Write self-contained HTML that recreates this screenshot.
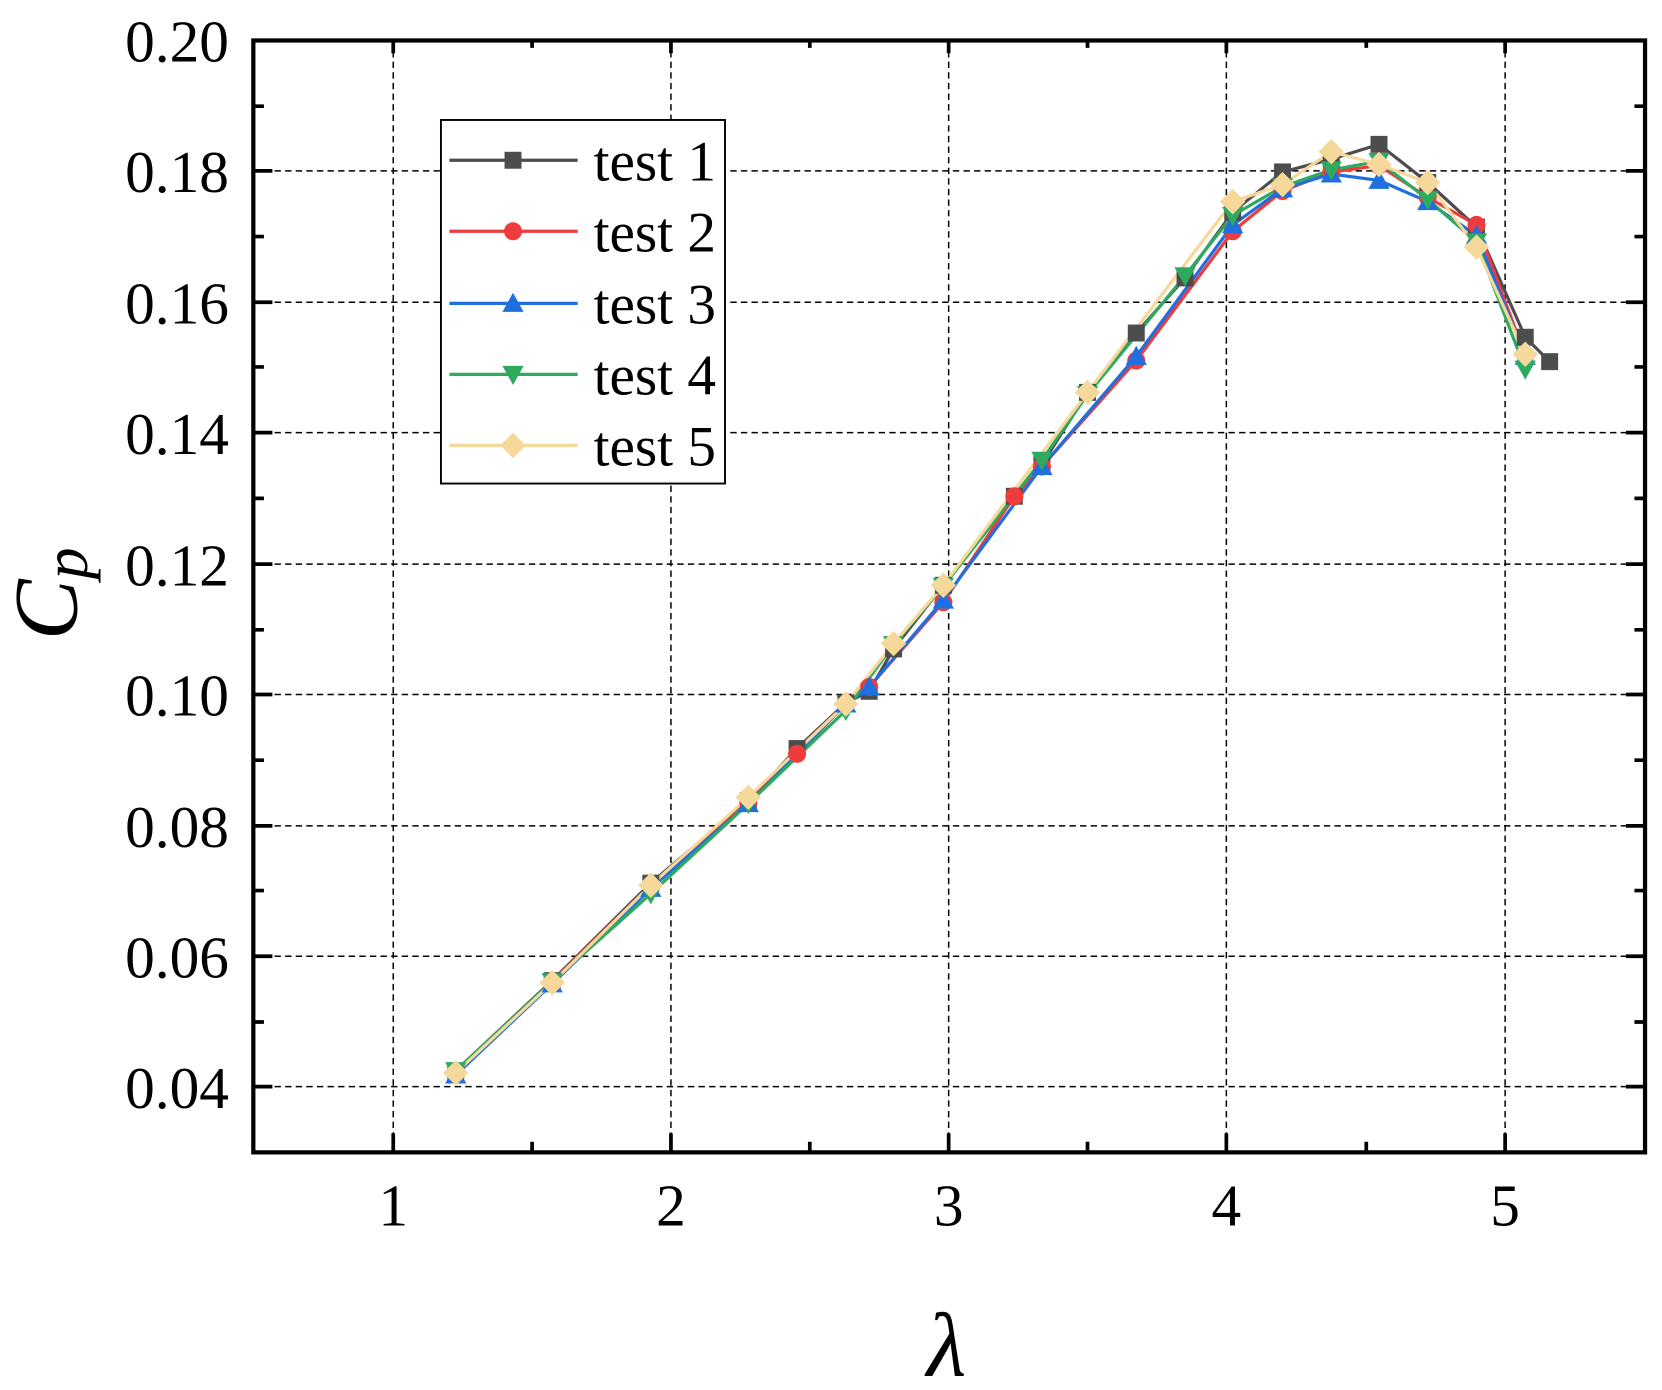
<!DOCTYPE html>
<html><head><meta charset="utf-8"><style>html,body{margin:0;padding:0;background:#fff}svg{display:block}</style></head>
<body>
<svg width="1662" height="1390" viewBox="0 0 1568 1311" xmlns="http://www.w3.org/2000/svg" font-family="Liberation Serif, serif">
<rect width="1568" height="1311" fill="#fff"/>
<g stroke="#000" stroke-width="1.4" stroke-dasharray="6,4" fill="none">
<path d="M371,38V1087M633,38V1087M895,38V1087M1157,38V1087M1420,38V1087"/>
<path d="M239,161H1552M239,285H1552M239,408H1552M239,532H1552M239,655H1552M239,779H1552M239,902H1552M239,1025H1552"/>
</g>
<g stroke="#000" stroke-width="3.5">
<path d="M371,1087v-18M633,1087v-18M895,1087v-18M1157,1087v-18M1420,1087v-18M502,1087v-10M764,1087v-10M1026,1087v-10M1289,1087v-10"/>
<path d="M371,38v12M633,38v12M895,38v12M1157,38v12M1420,38v12M502,38v7M764,38v7M1026,38v7M1289,38v7"/>
<path d="M239,161h18M239,285h18M239,408h18M239,532h18M239,655h18M239,779h18M239,902h18M239,1025h18M239,100h10M239,223h10M239,346h10M239,470h10M239,594h10M239,717h10M239,840h10M239,964h10"/>
<path d="M1552,161h-18M1552,285h-18M1552,408h-18M1552,532h-18M1552,655h-18M1552,779h-18M1552,902h-18M1552,1025h-18M1552,100h-10M1552,223h-10M1552,346h-10M1552,470h-10M1552,594h-10M1552,717h-10M1552,840h-10M1552,964h-10"/>
</g>
<rect x="239" y="38" width="1313" height="1049" fill="none" stroke="#000" stroke-width="4"/>
<defs>
<rect id="sq" x="-8" y="-8" width="16" height="16" fill="#4d4d4d"/>
<circle id="ci" r="8.5" fill="#ee3b3b"/>
<path id="tu" d="M0,-10L10,8H-10Z" fill="#1f6fe0"/>
<path id="td" d="M0,10L10,-8H-10Z" fill="#2eaa5f"/>
<path id="di" d="M0,-12L12,0L0,12L-12,0Z" fill="#f5d89a"/>
</defs>
<g fill="none" stroke-width="3">
<polyline stroke="#4d4d4d" points="430,1010 521,925 614,833 706,755 752,706 798,663 820,652 843,612 890,552 957,468 983,438 1026,370 1072,314 1118,262 1163,200 1210,162 1256,150 1301,136 1347,172 1393,214 1439,318 1462,341"/>
<polyline stroke="#ee3b3b" points="430,1012 521,926 614,835 706,757 752,711 798,664 820,648 890,568 957,468 983,440 1072,340 1163,218 1210,180 1256,162 1301,156 1347,186 1393,212 1439,335"/>
<polyline stroke="#1f6fe0" points="430,1014 521,928 614,838 706,758 798,664 820,648 890,566 983,440 1072,336 1163,212 1210,178 1256,164 1301,170 1347,190 1393,222 1439,336"/>
<polyline stroke="#2eaa5f" points="430,1010 521,926 614,843 706,758 798,670 843,608 890,553 983,434 1026,372 1118,260 1163,203 1210,176 1256,160 1301,152 1347,188 1393,228 1439,348"/>
<polyline stroke="#f5d89a" points="430,1012 521,927 614,835 706,752 798,664 843,607 890,552 1026,370 1163,190 1210,174 1256,143 1301,155 1347,172 1393,233 1439,334"/>
</g>
<g>
<use href="#sq" x="430" y="1010"/><use href="#sq" x="521" y="925"/><use href="#sq" x="614" y="833"/><use href="#sq" x="706" y="755"/><use href="#sq" x="752" y="706"/><use href="#sq" x="798" y="663"/><use href="#sq" x="820" y="652"/><use href="#sq" x="843" y="612"/><use href="#sq" x="890" y="552"/><use href="#sq" x="957" y="468"/><use href="#sq" x="983" y="438"/><use href="#sq" x="1026" y="370"/><use href="#sq" x="1072" y="314"/><use href="#sq" x="1118" y="262"/><use href="#sq" x="1163" y="200"/><use href="#sq" x="1210" y="162"/><use href="#sq" x="1256" y="150"/><use href="#sq" x="1301" y="136"/><use href="#sq" x="1347" y="172"/><use href="#sq" x="1393" y="214"/><use href="#sq" x="1439" y="318"/><use href="#sq" x="1462" y="341"/>
<use href="#ci" x="430" y="1012"/><use href="#ci" x="521" y="926"/><use href="#ci" x="614" y="835"/><use href="#ci" x="706" y="757"/><use href="#ci" x="752" y="711"/><use href="#ci" x="798" y="664"/><use href="#ci" x="820" y="648"/><use href="#ci" x="890" y="568"/><use href="#ci" x="957" y="468"/><use href="#ci" x="983" y="440"/><use href="#ci" x="1072" y="340"/><use href="#ci" x="1163" y="218"/><use href="#ci" x="1210" y="180"/><use href="#ci" x="1256" y="162"/><use href="#ci" x="1301" y="156"/><use href="#ci" x="1347" y="186"/><use href="#ci" x="1393" y="212"/><use href="#ci" x="1439" y="335"/>
<use href="#tu" x="430" y="1014"/><use href="#tu" x="521" y="928"/><use href="#tu" x="614" y="838"/><use href="#tu" x="706" y="758"/><use href="#tu" x="798" y="664"/><use href="#tu" x="820" y="648"/><use href="#tu" x="890" y="566"/><use href="#tu" x="983" y="440"/><use href="#tu" x="1072" y="336"/><use href="#tu" x="1163" y="212"/><use href="#tu" x="1210" y="178"/><use href="#tu" x="1256" y="164"/><use href="#tu" x="1301" y="170"/><use href="#tu" x="1347" y="190"/><use href="#tu" x="1393" y="222"/><use href="#tu" x="1439" y="336"/>
<use href="#td" x="430" y="1010"/><use href="#td" x="521" y="926"/><use href="#td" x="614" y="843"/><use href="#td" x="706" y="758"/><use href="#td" x="798" y="670"/><use href="#td" x="843" y="608"/><use href="#td" x="890" y="553"/><use href="#td" x="983" y="434"/><use href="#td" x="1026" y="372"/><use href="#td" x="1118" y="260"/><use href="#td" x="1163" y="203"/><use href="#td" x="1210" y="176"/><use href="#td" x="1256" y="160"/><use href="#td" x="1301" y="152"/><use href="#td" x="1347" y="188"/><use href="#td" x="1393" y="228"/><use href="#td" x="1439" y="348"/>
<use href="#di" x="430" y="1012"/><use href="#di" x="521" y="927"/><use href="#di" x="614" y="835"/><use href="#di" x="706" y="752"/><use href="#di" x="798" y="664"/><use href="#di" x="843" y="607"/><use href="#di" x="890" y="552"/><use href="#di" x="1026" y="370"/><use href="#di" x="1163" y="190"/><use href="#di" x="1210" y="174"/><use href="#di" x="1256" y="143"/><use href="#di" x="1301" y="155"/><use href="#di" x="1347" y="172"/><use href="#di" x="1393" y="233"/><use href="#di" x="1439" y="334"/>
</g>
<rect x="416" y="113" width="268" height="343" fill="#fff" stroke="#000" stroke-width="1.8"/>
<g stroke-width="3">
<path d="M424,151H545" stroke="#4d4d4d"/><use href="#sq" x="484" y="151"/>
<path d="M424,218H545" stroke="#ee3b3b"/><use href="#ci" x="484" y="218"/>
<path d="M424,286H545" stroke="#1f6fe0"/><use href="#tu" x="484" y="286"/>
<path d="M424,353H545" stroke="#2eaa5f"/><use href="#td" x="484" y="353"/>
<path d="M424,420H545" stroke="#f5d89a"/><use href="#di" x="484" y="420"/>
</g>
<g font-size="54" fill="#000">
<text x="560" y="170">test 1</text>
<text x="560" y="237">test 2</text>
<text x="560" y="305">test 3</text>
<text x="560" y="372">test 4</text>
<text x="560" y="439">test 5</text>
</g>
<g font-size="56" text-anchor="end" fill="#000">
<text x="216" y="58">0.20</text><text x="216" y="181">0.18</text><text x="216" y="305">0.16</text><text x="216" y="428">0.14</text><text x="216" y="552">0.12</text><text x="216" y="675">0.10</text><text x="216" y="799">0.08</text><text x="216" y="922">0.06</text><text x="216" y="1045">0.04</text>
</g>
<g font-size="56" text-anchor="middle" fill="#000">
<text x="371" y="1156">1</text><text x="633" y="1156">2</text><text x="895" y="1156">3</text><text x="1157" y="1156">4</text><text x="1420" y="1156">5</text>
</g>
<text x="893" y="1298" font-size="86" font-style="italic" text-anchor="middle">λ</text>
<g transform="translate(72,560) rotate(-90)"><text x="0" y="0" font-size="86" font-style="italic" text-anchor="middle">C<tspan font-size="60" dy="10">p</tspan></text></g>
</svg>
</body></html>
